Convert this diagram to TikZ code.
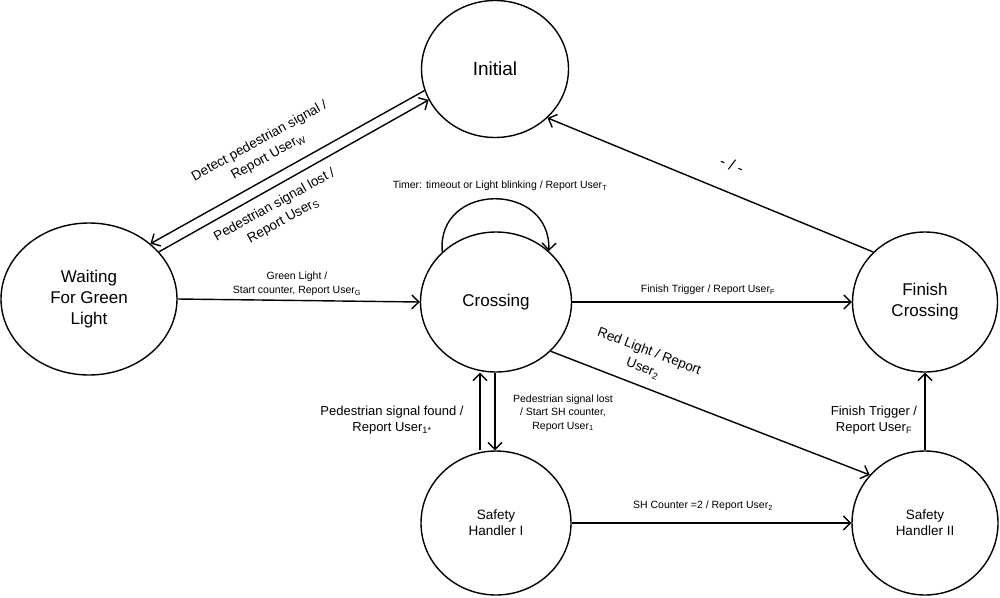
\documentclass[tikz,border=0pt]{standalone}
\usepackage{fontspec}
\setmainfont{Liberation Sans}
\usetikzlibrary{shapes.geometric,arrows.meta}
\begin{document}
\begin{tikzpicture}[x=1pt,y=-1pt,
  state/.style={draw,ellipse,line width=1.4pt,inner sep=0pt,align=center},
  big/.style={font=\fontsize{17}{21}\selectfont},
  small/.style={font=\fontsize{13.5}{16}\selectfont},
  lab/.style={align=center,inner sep=0pt},
  lab11/.style={lab,font=\fontsize{10.5}{13.5}\selectfont},
  lab13/.style={lab,font=\fontsize{13}{16}\selectfont},
  labrot/.style={lab,font=\fontsize{13.5}{18}\selectfont},
  tr/.style={line width=1.4pt,-{Straight Barb[length=7pt,width=14pt,line width=1.4pt]}}]
\useasboundingbox (0,0) rectangle (1000,597);
\fill[white] (0,0) rectangle (1000,597);
% states
\node[state,minimum width=147pt,minimum height=137pt,font=\fontsize{19}{23}\selectfont] (init) at (495,69) {Initial};
\node[state,big,minimum width=176pt,minimum height=152pt] (wait) at (89,299) {Waiting\\For Green\\Light};
\node[state,big,minimum width=151pt,minimum height=140pt] (cross) at (496,302) {Crossing};
\node[state,big,minimum width=145pt,minimum height=140pt] (finish) at (925,302) {Finish\\Crossing};
\node[state,small,minimum width=150pt,minimum height=144pt] (sh1) at (496,523) {Safety\\Handler I};
\node[state,small,minimum width=146pt,minimum height=144pt] (sh2) at (925,523) {Safety\\Handler II};
% transitions
\draw[tr] (init.197) -- (wait.42);
\draw[tr] (wait.34) -- (init.205);
\draw[tr] (wait.0) -- (cross.180);
\draw[tr] (cross.0) -- (finish.180);
\draw[tr] (cross.-42) -- (sh2.139);
\draw[tr] ([xshift=-16pt]sh1.north) -- ([xshift=-16pt]cross.south);
\draw[tr] ([xshift=-1pt]cross.south) -- ([xshift=-1pt]sh1.north);
\draw[tr] (sh1.0) -- (sh2.180);
\draw[tr] (sh2.north) -- (finish.south);
\draw[tr] (finish.136) -- (init.-43);
\draw[tr] (cross.137) .. controls +(-6,-70) and +(2,-70) .. (cross.44);
% labels
\node[labrot,rotate=29] (l1) at (264,149) {Detect pedestrian signal /\\Report User\textsubscript{W}};
\node[labrot,rotate=29] (l2) at (279,213) {Pedestrian signal lost /\\Report User\textsubscript{S}};
\node[lab11] (l3) at (500,186) {Timer: timeout or Light blinking / Report User\textsubscript{T}};
\node[lab11] (l4) at (297,284) {Green Light /\\Start counter, Report User\textsubscript{G}};
\node[lab11] (l5) at (708,290) {Finish Trigger / Report User\textsubscript{F}};
\node[labrot,rotate=-21] (l6) at (646,360) {Red Light / Report\\User\textsubscript{2}};
\node[lab13] (l7) at (392,420) {Pedestrian signal found /\\Report User\textsubscript{1*}};
\node[lab11] (l8) at (563,413) {Pedestrian signal lost\\/ Start SH counter,\\Report User\textsubscript{1}};
\node[lab11] (l9) at (703,506) {SH Counter =2 / Report User\textsubscript{2}};
\node[lab13] (l10) at (874,420) {Finish Trigger /\\Report User\textsubscript{F}};
\node[lab,font=\fontsize{16}{18}\selectfont,rotate=-22] (l11) at (732,165) {- / -};
\end{tikzpicture}
\end{document}
